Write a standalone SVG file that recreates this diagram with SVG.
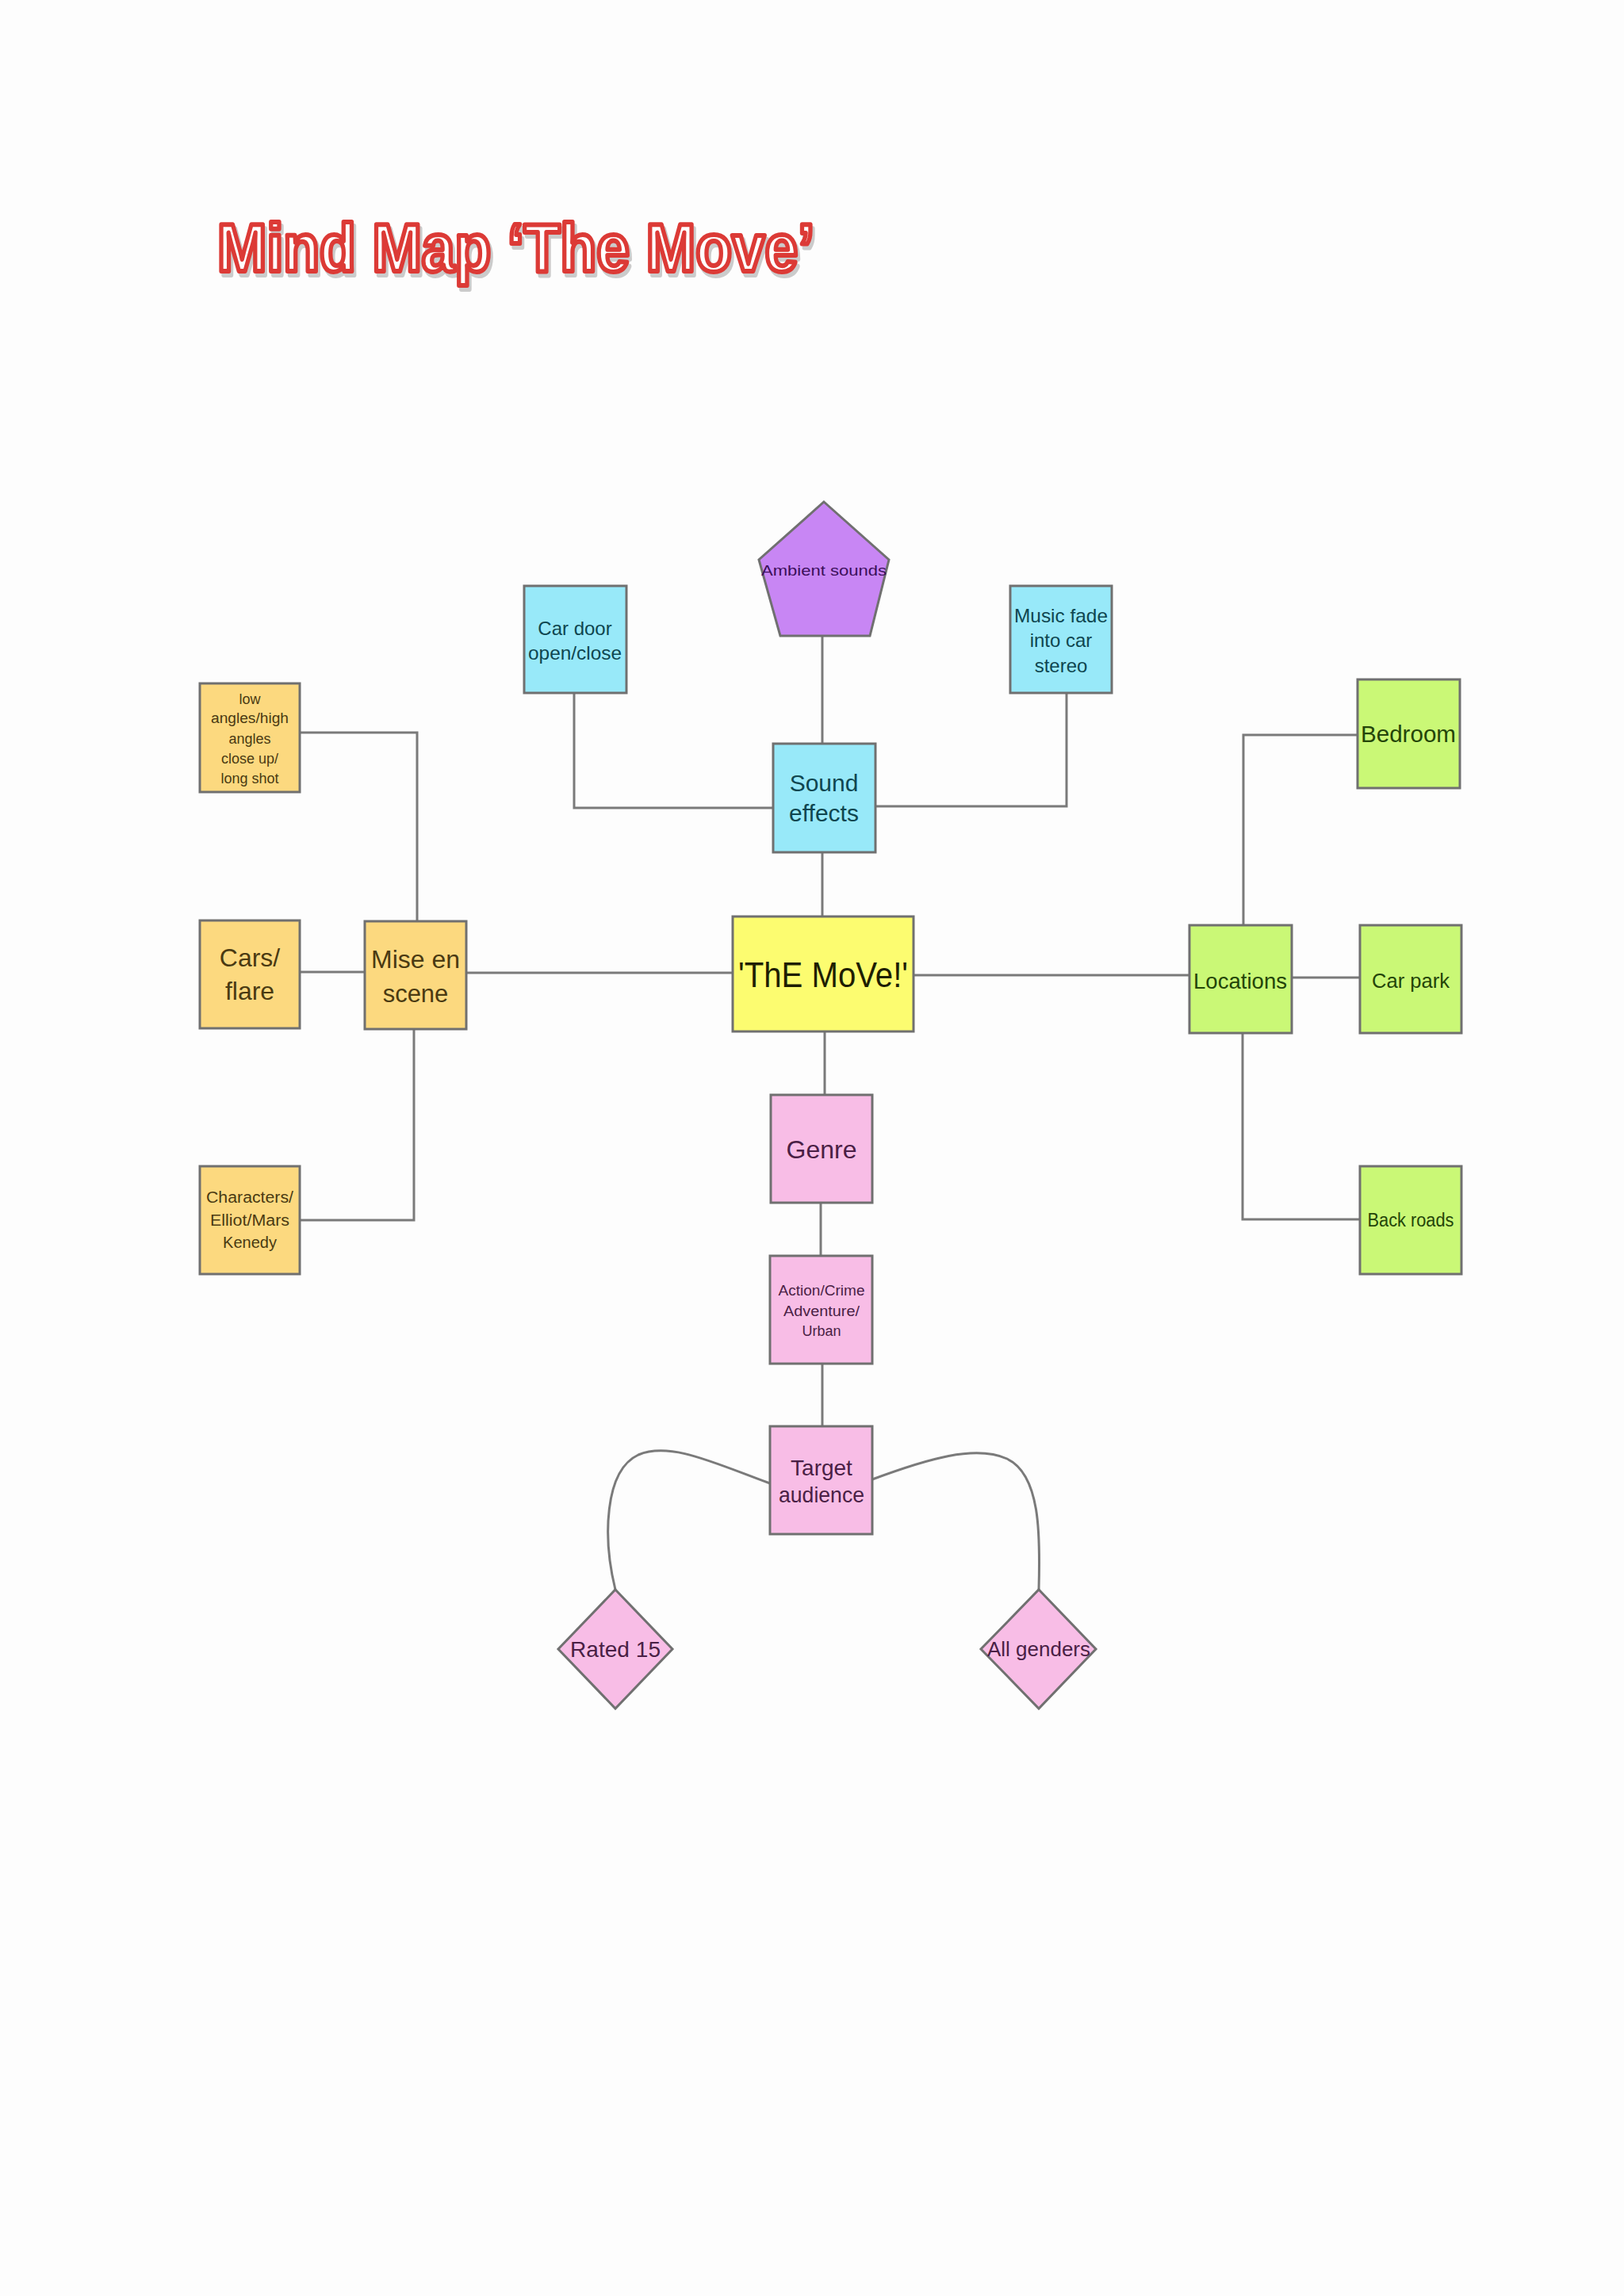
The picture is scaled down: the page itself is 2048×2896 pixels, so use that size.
<svg xmlns="http://www.w3.org/2000/svg" width="2048" height="2896" viewBox="0 0 2048 2896">
<defs>
<style>
.bg{fill:#fdfdfd}
.title{font-family:"Liberation Sans",Arial,sans-serif;font-weight:bold;font-size:85px}
.tmain{fill:#ffffff;stroke:#dc3a36;stroke-width:6;stroke-linejoin:round}
.tshadow{fill:#9a9a9a;stroke:#9a9a9a;stroke-width:6;stroke-linejoin:round;opacity:0.5}
.node{stroke:#707070;stroke-width:3}
.orange{fill:#fcd97f}
.cyan{fill:#98e9f9}
.green{fill:#caf876}
.pink{fill:#f8bde6}
.yellow{fill:#fcfc70}
.purple{fill:#c886f4}
.lbl{font-family:"Liberation Sans",Arial,sans-serif;text-anchor:middle}
.to{fill:#4a3a12}
.tc{fill:#0f4650}
.tg{fill:#244509}
.tp{fill:#4a1f45}
.ty{fill:#1e1e00}
.tv{fill:#3b0f5a}
.conn{fill:none;stroke:#7a7a7a;stroke-width:3}
</style>
</defs>
<rect class="bg" x="0" y="0" width="2048" height="2896"/>

<g id="title">
<text class="title tshadow" x="277" y="347" textLength="753" lengthAdjust="spacingAndGlyphs">Mind Map ‘The Move’</text>
<text class="title tmain" x="274" y="342" textLength="753" lengthAdjust="spacingAndGlyphs">Mind Map ‘The Move’</text>
</g>

<g id="connectors">
<line class="conn" x1="1037" y1="800" x2="1037" y2="938"/>
<polyline class="conn" points="724,874 724,1019 975,1019"/>
<polyline class="conn" points="1345,874 1345,1017 1104,1017"/>
<line class="conn" x1="1037" y1="1075" x2="1037" y2="1156"/>
<line class="conn" x1="1040" y1="1301" x2="1040" y2="1381"/>
<line class="conn" x1="1035" y1="1517" x2="1035" y2="1584"/>
<line class="conn" x1="1037" y1="1720" x2="1037" y2="1799"/>
<line class="conn" x1="588" y1="1227" x2="924" y2="1227"/>
<line class="conn" x1="1152" y1="1230" x2="1500" y2="1230"/>
<line class="conn" x1="378" y1="1226" x2="460" y2="1226"/>
<polyline class="conn" points="378,924 526,924 526,1162"/>
<polyline class="conn" points="522,1298 522,1539 378,1539"/>
<polyline class="conn" points="1568,1167 1568,927 1712,927"/>
<line class="conn" x1="1629" y1="1233" x2="1715" y2="1233"/>
<polyline class="conn" points="1567,1303 1567,1538 1715,1538"/>
<path class="conn" d="M971 1871 C900 1845 845 1818 805 1835 C762 1855 760 1940 776 2005"/>
<path class="conn" d="M1100 1866 C1170 1840 1230 1822 1270 1840 C1312 1860 1312 1935 1310 2005"/>
</g>

<g id="ambient-sounds">
<polygon class="node purple" points="1039,633 1121,706 1097,802 984,802 957,706"/>
<text class="lbl tv" x="1039" y="726" font-size="19" textLength="158" lengthAdjust="spacingAndGlyphs">Ambient sounds</text>
</g>

<g id="car-door">
<rect class="node cyan" x="661" y="739" width="129" height="135"/>
<text class="lbl tc" x="725" y="801" font-size="24">Car door</text>
<text class="lbl tc" x="725" y="832" font-size="24" textLength="118" lengthAdjust="spacingAndGlyphs">open/close</text>
</g>

<g id="music-fade">
<rect class="node cyan" x="1274" y="739" width="128" height="135"/>
<text class="lbl tc" x="1338" y="785" font-size="24" textLength="118" lengthAdjust="spacingAndGlyphs">Music fade</text>
<text class="lbl tc" x="1338" y="816" font-size="24">into car</text>
<text class="lbl tc" x="1338" y="848" font-size="24">stereo</text>
</g>

<g id="sound-effects">
<rect class="node cyan" x="975" y="938" width="129" height="137"/>
<text class="lbl tc" x="1039" y="998" font-size="30">Sound</text>
<text class="lbl tc" x="1039" y="1036" font-size="30">effects</text>
</g>

<g id="bedroom">
<rect class="node green" x="1712" y="857" width="129" height="137"/>
<text class="lbl tg" x="1776" y="936" font-size="29" textLength="120" lengthAdjust="spacingAndGlyphs">Bedroom</text>
</g>

<g id="camera-angles">
<rect class="node orange" x="252" y="862" width="126" height="137"/>
<text class="lbl to" x="315" y="888" font-size="18">low</text>
<text class="lbl to" x="315" y="912" font-size="18" textLength="98" lengthAdjust="spacingAndGlyphs">angles/high</text>
<text class="lbl to" x="315" y="938" font-size="18">angles</text>
<text class="lbl to" x="315" y="963" font-size="18">close up/</text>
<text class="lbl to" x="315" y="988" font-size="18">long shot</text>
</g>

<g id="cars-flare">
<rect class="node orange" x="252" y="1161" width="126" height="136"/>
<text class="lbl to" x="315" y="1219" font-size="32">Cars/</text>
<text class="lbl to" x="315" y="1261" font-size="32">flare</text>
</g>

<g id="mise-en-scene">
<rect class="node orange" x="460" y="1162" width="128" height="136"/>
<text class="lbl to" x="524" y="1221" font-size="31" textLength="112" lengthAdjust="spacingAndGlyphs">Mise en</text>
<text class="lbl to" x="524" y="1264" font-size="31">scene</text>
</g>

<g id="the-move">
<rect class="node yellow" x="924" y="1156" width="228" height="145"/>
<text class="lbl ty" x="1038" y="1245" font-size="44" textLength="214" lengthAdjust="spacingAndGlyphs">'ThE MoVe!'</text>
</g>

<g id="locations">
<rect class="node green" x="1500" y="1167" width="129" height="136"/>
<text class="lbl tg" x="1564" y="1247" font-size="28" textLength="118" lengthAdjust="spacingAndGlyphs">Locations</text>
</g>

<g id="car-park">
<rect class="node green" x="1715" y="1167" width="128" height="136"/>
<text class="lbl tg" x="1779" y="1246" font-size="26" textLength="98" lengthAdjust="spacingAndGlyphs">Car park</text>
</g>

<g id="back-roads">
<rect class="node green" x="1715" y="1471" width="128" height="136"/>
<text class="lbl tg" x="1779" y="1547" font-size="23" textLength="109" lengthAdjust="spacingAndGlyphs">Back roads</text>
</g>

<g id="characters">
<rect class="node orange" x="252" y="1471" width="126" height="136"/>
<text class="lbl to" x="315" y="1517" font-size="20" textLength="110" lengthAdjust="spacingAndGlyphs">Characters/</text>
<text class="lbl to" x="315" y="1546" font-size="20" textLength="100" lengthAdjust="spacingAndGlyphs">Elliot/Mars</text>
<text class="lbl to" x="315" y="1574" font-size="20">Kenedy</text>
</g>

<g id="genre">
<rect class="node pink" x="972" y="1381" width="128" height="136"/>
<text class="lbl tp" x="1036" y="1461" font-size="32">Genre</text>
</g>

<g id="genre-types">
<rect class="node pink" x="971" y="1584" width="129" height="136"/>
<text class="lbl tp" x="1036" y="1634" font-size="18" textLength="109" lengthAdjust="spacingAndGlyphs">Action/Crime</text>
<text class="lbl tp" x="1036" y="1660" font-size="18" textLength="96" lengthAdjust="spacingAndGlyphs">Adventure/</text>
<text class="lbl tp" x="1036" y="1685" font-size="18">Urban</text>
</g>

<g id="target-audience">
<rect class="node pink" x="971" y="1799" width="129" height="136"/>
<text class="lbl tp" x="1036" y="1861" font-size="28">Target</text>
<text class="lbl tp" x="1036" y="1895" font-size="28" textLength="108" lengthAdjust="spacingAndGlyphs">audience</text>
</g>

<g id="rated-15">
<polygon class="node pink" points="776,2005 848,2080 776,2155 704,2080"/>
<text class="lbl tp" x="776" y="2090" font-size="28" textLength="114" lengthAdjust="spacingAndGlyphs">Rated 15</text>
</g>

<g id="all-genders">
<polygon class="node pink" points="1310,2005 1382,2080 1310,2155 1237,2080"/>
<text class="lbl tp" x="1310" y="2089" font-size="26" textLength="130" lengthAdjust="spacingAndGlyphs">All genders</text>
</g>
</svg>
